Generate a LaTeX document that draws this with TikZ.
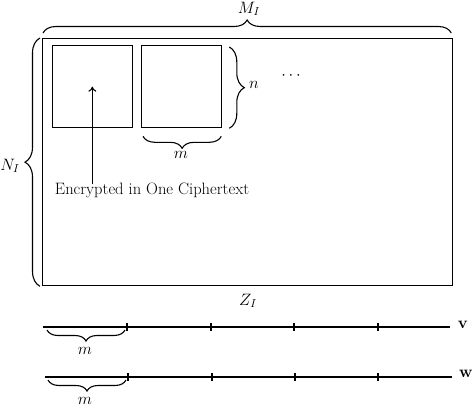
\RequirePackage{fix-cm}
\documentclass[tikz,border=0pt]{standalone}
\usetikzlibrary{decorations.pathreplacing,arrows.meta}
\begin{document}
\begin{tikzpicture}[x=1pt,y=1pt,
  every node/.style={font=\fontsize{16.5}{20}\selectfont},
  thin line/.style={line width=1.1pt},
  blockbox/.style={draw, line width=1.3pt, inner sep=0pt, anchor=north west},
  bracestyle/.style={line width=1.1pt, decorate, decoration={brace, amplitude=#1}},
  tickmark/.style={line width=1.1pt}]
\useasboundingbox (0,0) rectangle (474,-405);
% main image
\node[blockbox, minimum width=410pt, minimum height=247pt] (img) at (42,-38) {};
\node[blockbox, minimum width=80pt, minimum height=82pt] (box1) at (51.7,-45) {};
\node[blockbox, minimum width=80pt, minimum height=82pt] (box2) at (141,-45) {};
% braces on image
\draw[bracestyle=13pt] ([xshift=1pt,yshift=5pt]img.north west) -- ([xshift=-2pt,yshift=5pt]img.north east);
\node (MI) at (249,-9) {$M_I$};
\draw[bracestyle=15pt] ([xshift=-2pt]img.south west) -- ([xshift=-2pt]img.north west);
\node (NI) at (10,-166) {$N_I$};
\draw[bracestyle=15pt] ([xshift=7pt,yshift=-2pt]box2.north east) -- ([xshift=7pt]box2.south east);
\node (n) at (254,-85) {$n$};
\node (dots) at (291,-76) {$\cdots$};
\draw[bracestyle=12pt] ([xshift=-1pt,yshift=-8pt]box2.south east) -- ([xshift=2pt,yshift=-8pt]box2.south west);
\node (m1) at (181,-155) {$m$};
% caption and arrow
\node[inner sep=1pt] (cap) at (152,-190) {Encrypted in One Ciphertext};
\draw[line width=1.1pt, -{To[length=5pt,width=8pt]}] ([yshift=-3pt]cap.north -| box1.center) -- (box1.center);
\node (ZI) at (248,-301) {$Z_I$};
% vector v
\coordinate (v0) at (43,-327);
\coordinate (v1) at (450,-327);
\draw[thin line] (v0) -- (v1);
\foreach \t in {127,211,294,378} \draw[tickmark] (\t,-323) -- (\t,-331);
\node (v) at (463,-325) {$\mathbf{v}$};
\draw[bracestyle=11pt] (125,-330) -- (47,-330);
\node (m2) at (85,-351) {$m$};
% vector w
\coordinate (w0) at (45,-377);
\coordinate (w1) at (452,-377);
\draw[thin line] (w0) -- (w1);
\foreach \t in {128,212,295,378} \draw[tickmark] (\t,-373) -- (\t,-381);
\node (w) at (466,-374) {$\mathbf{w}$};
\draw[bracestyle=11pt] (126,-380) -- (48,-380);
\node (m3) at (85,-401) {$m$};
\end{tikzpicture}
\end{document}
